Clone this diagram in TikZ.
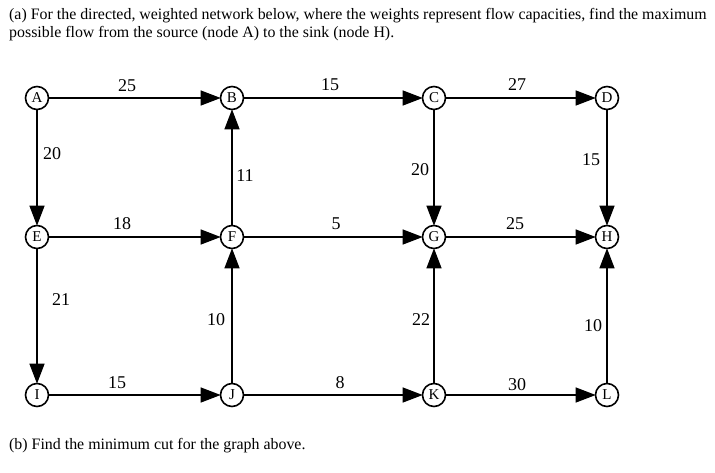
\documentclass[tikz,border=0pt]{standalone}
\usepackage{fontspec}
\setmainfont{Liberation Serif}
\usetikzlibrary{arrows.meta}
\begin{document}
\begin{tikzpicture}[x=1pt,y=-1pt,
  vert/.style={circle,draw,line width=1.6pt,minimum size=23pt,inner sep=0pt,font=\fontsize{15}{15}\selectfont,fill=white},
  edge/.style={line width=1.3pt,-{Triangle[length=20pt,width=15pt]},shorten >=-1pt},
  wt/.style={font=\fontsize{18}{18}\selectfont,inner sep=1pt}]
\useasboundingbox (0,0) rectangle (715,472);
\node[anchor=north west,align=left,font=\fontsize{15.9}{18}\selectfont,inner sep=0pt] (t) at (9,8) {(a) For the directed, weighted network below, where the weights represent flow capacities, find the maximum\\possible flow from the source (node A) to the sink (node H).};
\node[anchor=west,font=\fontsize{15.9}{18}\selectfont,inner sep=0pt] (b) at (9,446) {(b) Find the minimum cut for the graph above.};
\foreach \n/\x/\y in {A/37/98,B/232/98,C/434/98,D/607/98,E/37/237,F/232/237,G/434/237,H/607/237,I/37/395,J/232/395,K/434/395,L/607/395}
  \node[vert] (\n) at (\x,\y) {\n};
\draw[edge] (A) -- (B); \node[wt] at (127,86) {25};
\draw[edge] (B) -- (C); \node[wt] at (330,85) {15};
\draw[edge] (C) -- (D); \node[wt] at (517,85) {27};
\draw[edge] (E) -- (F); \node[wt] at (122,224) {18};
\draw[edge] (F) -- (G); \node[wt] at (336,224) {5};
\draw[edge] (G) -- (H); \node[wt] at (515,224) {25};
\draw[edge] (I) -- (J); \node[wt] at (117,383) {15};
\draw[edge] (J) -- (K); \node[wt] at (340,383) {8};
\draw[edge] (K) -- (L); \node[wt] at (517,385) {30};
\draw[edge] (A) -- (E); \node[wt] at (52,154) {20};
\draw[edge] (E) -- (I); \node[wt] at (61,300) {21};
\draw[edge] (F) -- (B); \node[wt] at (245,176) {11};
\draw[edge] (J) -- (F); \node[wt] at (216,320) {10};
\draw[edge] (C) -- (G); \node[wt] at (420,170) {20};
\draw[edge] (K) -- (G); \node[wt] at (421,320) {22};
\draw[edge] (D) -- (H); \node[wt] at (591,160) {15};
\draw[edge] (L) -- (H); \node[wt] at (593,326) {10};
\end{tikzpicture}
\end{document}
